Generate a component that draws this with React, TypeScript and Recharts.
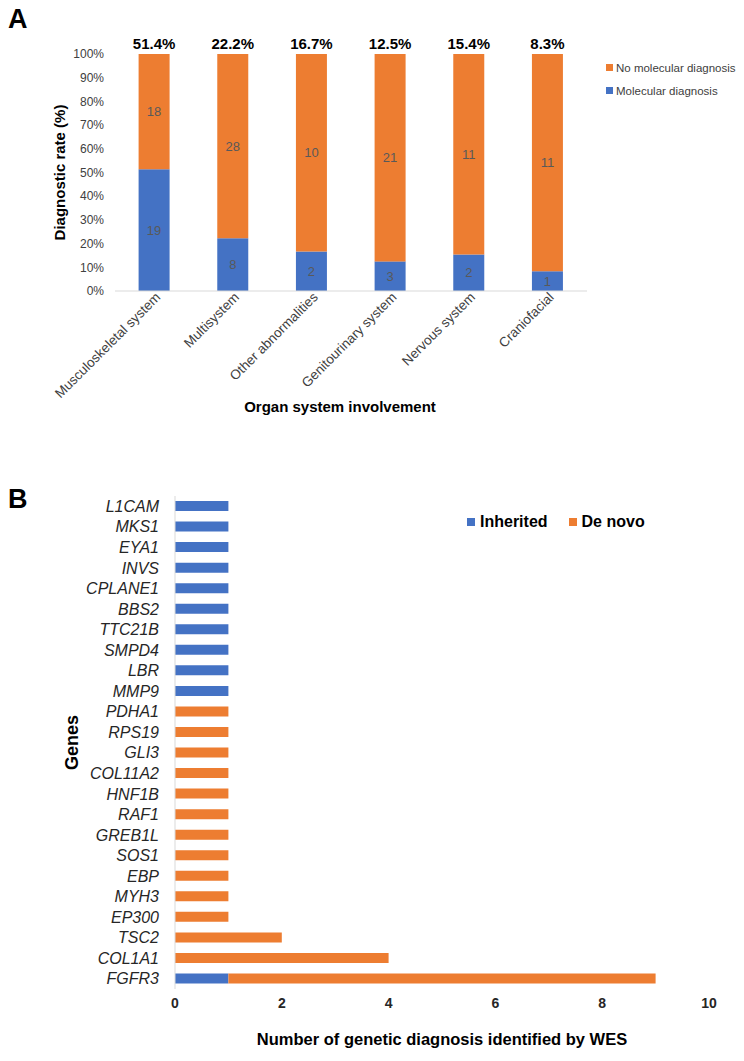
import { Bar, BarChart, Label, LabelList, Legend, XAxis, YAxis } from "recharts";

// Panel A: diagnostic rate per organ system
const organSystems = [
  "Musculoskeletal system",
  "Multisystem",
  "Other abnormalities",
  "Genitourinary system",
  "Nervous system",
  "Craniofacial"
];
const molecularCounts = [19, 8, 2, 3, 2, 1];
const noMolecularCounts = [18, 28, 10, 21, 11, 11];
const rateTicks = [0, 0.1, 0.2, 0.3, 0.4, 0.5, 0.6, 0.7, 0.8, 0.9, 1];

// Panel B: genes found by WES
const genes = [
  "L1CAM", "MKS1", "EYA1", "INVS", "CPLANE1", "BBS2", "TTC21B", "SMPD4", "LBR", "MMP9",
  "PDHA1", "RPS19", "GLI3", "COL11A2", "HNF1B", "RAF1", "GREB1L", "SOS1", "EBP", "MYH3",
  "EP300", "TSC2", "COL1A1", "FGFR3"
];
const inheritedCounts = [1, 1, 1, 1, 1, 1, 1, 1, 1, 1, 0, 0, 0, 0, 0, 0, 0, 0, 0, 0, 0, 0, 0, 1];
const deNovoCounts = [0, 0, 0, 0, 0, 0, 0, 0, 0, 0, 1, 1, 1, 1, 1, 1, 1, 1, 1, 1, 1, 2, 4, 8];
const countTicks = [0, 2, 4, 6, 8, 10];

const BLUE = "#4472C4";
const ORANGE = "#ED7D31";

const organData = organSystems.map((system, i) => ({
  system,
  molecular: molecularCounts[i],
  noMolecular: noMolecularCounts[i],
  rateLabel: `${((molecularCounts[i] / (molecularCounts[i] + noMolecularCounts[i])) * 100).toFixed(1)}%`
}));

const geneData = genes.map((gene, i) => ({
  gene,
  inherited: inheritedCounts[i],
  deNovo: deNovoCounts[i]
}));

const legendA = [
  { label: "No molecular diagnosis", color: ORANGE },
  { label: "Molecular diagnosis", color: BLUE }
];
const legendB = [
  { label: "Inherited", color: BLUE },
  { label: "De novo", color: ORANGE }
];

function OrganTick(props: any) {
  const { x, y, payload } = props;
  return (
    <g transform={`translate(${x + 7},${y + 5}) rotate(-45)`}>
      <text x={0} y={0} textAnchor="end" fontSize={13.5} fill="#404040">
        {payload.value}
      </text>
    </g>
  );
}

function PanelLetter({ letter, top }: { letter: string; top: number }) {
  return (
    <div style={{ position: "absolute", left: 8, top, fontSize: 27, fontWeight: "bold", lineHeight: 1 }}>
      {letter}
    </div>
  );
}

export default function App() {
  return (
    <div
      style={{
        position: "absolute",
        left: 0,
        top: 0,
        width: 744,
        height: 1061,
        background: "#fff",
        fontFamily: "'Liberation Sans', Arial, sans-serif",
        color: "#000"
      }}
    >
      <PanelLetter letter="A" top={6} />
      <PanelLetter letter="B" top={486} />

      <div style={{ position: "absolute", left: 0, top: 0 }}>
        <BarChart
          width={744}
          height={440}
          data={organData}
          stackOffset="expand"
          barCategoryGap="30%"
          margin={{ top: 54, right: 157, bottom: 49, left: 55 }}
        >
          <XAxis
            dataKey="system"
            height={100}
            interval={0}
            axisLine={{ stroke: "#d9d9d9" }}
            tickLine={false}
            tickSize={0}
            tickMargin={2}
            tick={<OrganTick />}
          >
            <Label
              value="Organ system involvement"
              position="bottom"
              offset={10}
              dx={-11}
              fontSize={15}
              fontWeight="bold"
              fill="#000"
            />
          </XAxis>
          <YAxis
            width={60}
            domain={[0, 1]}
            ticks={rateTicks}
            tickFormatter={(v: number) => `${Math.round(v * 100)}%`}
            axisLine={false}
            tickLine={false}
            tickSize={0}
            tickMargin={11}
            tick={{ fontSize: 12, fill: "#404040" }}
          >
            <Label
              value="Diagnostic rate (%)"
              angle={-90}
              position="insideLeft"
              offset={5}
              fontSize={15}
              fontWeight="bold"
              fill="#000"
              style={{ textAnchor: "middle" }}
            />
          </YAxis>
          <Legend
            layout="vertical"
            align="center"
            verticalAlign="middle"
            wrapperStyle={{ position: "absolute", left: 603, top: 56, width: 141 }}
            content={() => (
              <div>
                {legendA.map((item) => (
                  <div
                    key={item.label}
                    style={{
                      display: "flex",
                      alignItems: "center",
                      height: 23,
                      fontSize: 11.5,
                      color: "#404040",
                      whiteSpace: "nowrap"
                    }}
                  >
                    <span
                      style={{ width: 7, height: 7, flexShrink: 0, background: item.color, marginRight: 3, marginLeft: 3 }}
                    />
                    {item.label}
                  </div>
                ))}
              </div>
            )}
          />
          <Bar dataKey="molecular" stackId="dx" fill={BLUE} isAnimationActive={false}>
            <LabelList dataKey="molecular" position="center" fill="#595959" fontSize={13} />
          </Bar>
          <Bar dataKey="noMolecular" stackId="dx" fill={ORANGE} isAnimationActive={false}>
            <LabelList dataKey="noMolecular" position="center" fill="#595959" fontSize={13} />
            <LabelList dataKey="rateLabel" position="top" offset={5} fill="#000" fontSize={15} fontWeight="bold" />
          </Bar>
        </BarChart>
      </div>

      <div style={{ position: "absolute", left: 0, top: 470 }}>
        <BarChart
          layout="vertical"
          width={744}
          height={591}
          data={geneData}
          barSize={10}
          margin={{ top: 26, right: 35, bottom: 32, left: 55 }}
        >
          <XAxis
            type="number"
            domain={[0, 10]}
            ticks={countTicks}
            height={40}
            axisLine={false}
            tickLine={false}
            tickSize={0}
            tickMargin={9}
            tick={{ fontSize: 14, fontWeight: "bold", fill: "#262626" }}
          >
            <Label
              value="Number of genetic diagnosis identified by WES"
              position="bottom"
              offset={4}
              fontSize={16.5}
              fontWeight="bold"
              fill="#000"
            />
          </XAxis>
          <YAxis
            type="category"
            dataKey="gene"
            width={120}
            interval={0}
            axisLine={{ stroke: "#d9d9d9" }}
            tickLine={false}
            tickSize={0}
            tickMargin={16}
            tick={{ fontSize: 16, fontStyle: "italic", fill: "#262626" }}
          >
            <Label
              value="Genes"
              angle={-90}
              position="insideLeft"
              offset={17}
              fontSize={18}
              fontWeight="bold"
              fill="#000"
              style={{ textAnchor: "middle" }}
            />
          </YAxis>
          <Legend
            layout="vertical"
            align="center"
            verticalAlign="middle"
            wrapperStyle={{ position: "absolute", left: 463, top: 42, width: 200 }}
            content={() => (
              <div style={{ display: "flex", alignItems: "center", height: 20 }}>
                {legendB.map((item) => (
                  <div
                    key={item.label}
                    style={{ display: "flex", alignItems: "center", fontSize: 16, fontWeight: "bold", marginRight: 17 }}
                  >
                    <span style={{ width: 8, height: 8, background: item.color, marginLeft: 4, marginRight: 5 }} />
                    {item.label}
                  </div>
                ))}
              </div>
            )}
          />
          <Bar dataKey="inherited" stackId="genes" fill={BLUE} isAnimationActive={false} />
          <Bar dataKey="deNovo" stackId="genes" fill={ORANGE} isAnimationActive={false} />
        </BarChart>
      </div>
    </div>
  );
}
